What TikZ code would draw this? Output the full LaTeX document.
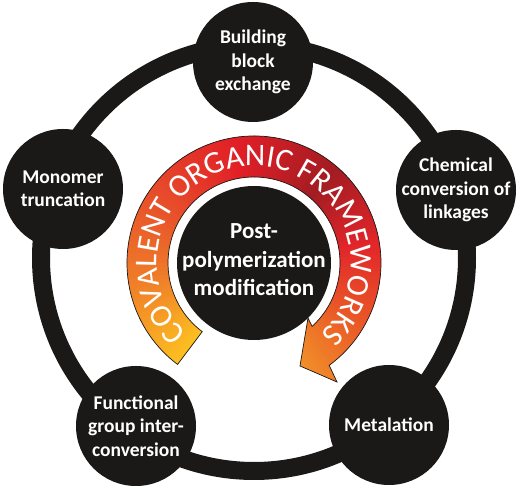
\documentclass[tikz,border=0pt]{standalone}
\usepackage{fontspec}
\setmainfont{Carlito}
\usepackage{tikz}
\usetikzlibrary{decorations.text}

\definecolor{cofblack}{HTML}{1B1918}
\definecolor{cofY}{HTML}{FDC21F}
\definecolor{cofO}{HTML}{EF7D29}
\definecolor{cofRO}{HTML}{E6462A}
\definecolor{cofR}{HTML}{E21F27}
\definecolor{cofD}{HTML}{A31C22}
\definecolor{cofRb}{HTML}{E2262A}
\definecolor{cofROb}{HTML}{EA5A27}
\definecolor{cofOb}{HTML}{F39B28}

\newcommand{\stagefont}{\bfseries\fontsize{19.5}{23.5}\selectfont}
\newcommand{\corefont}{\bfseries\fontsize{23}{28.5}\selectfont}
\newcommand{\arcfont}{\fontsize{31.5}{31.5}\selectfont}
% outline of the curved arrow, around the core
\newcommand{\cofarrow}{(233:127) arc[start angle=233, end angle=-53.7, radius=127]
    -- (83,-119) -- (46,-103) -- (54,-55) -- (-47.5:86)
    arc[start angle=-47.5, end angle=233, radius=86] -- cycle}

\begin{document}
\begin{tikzpicture}[x=1pt,y=1pt,
    stage/.style={circle, fill=cofblack, minimum size=120pt, inner sep=0pt},
    stagetext/.style={text=white, align=center, font=\stagefont},
    coretext/.style={text=white, align=center, font=\corefont, yshift=3pt},
    ringline/.style={draw=cofblack, line width=18pt}]
\useasboundingbox (0,0) rectangle (520,489);

\coordinate (ringc) at (254,231);
\draw[ringline] (ringc) circle (213);

\node[stage, label={[stagetext]center:Building\\block\\exchange}] (build) at (253,427) {};
\node[stage, label={[stagetext]center:Chemical\\conversion of\\linkages}] (chem) at (456,299) {};
\node[stage, label={[stagetext]center:Metalation}] (metal) at (389,64) {};
\node[stage, label={[stagetext]center:Functional\\group inter-\\conversion}] (func) at (136,63) {};
\node[stage, label={[stagetext]center:Monomer\\truncation}] (mono) at (63,300) {};

\node[circle, fill=cofblack, minimum size=154pt, inner sep=0pt,
    label={[coretext]center:Post-\\polymerization\\modification}] (core) at (254,226) {};

\begin{scope}[shift={(core.center)}]
  \begin{scope}
    \clip \cofarrow;
    \foreach \a/\b/\ca/\cb in {236/190/cofY/cofO, 190/140/cofO/cofRO, 140/100/cofRO/cofR,
        100/50/cofR/cofD, 50/10/cofD/cofRb, 10/-30/cofRb/cofROb, -30/-72/cofROb/cofOb}{
      \foreach \t in {0,...,19}{
        \pgfmathtruncatemacro\p{100-5*\t}
        \pgfmathsetmacro\s{\a+(\b-\a)*\t/20}
        \pgfmathsetmacro\e{\a+(\b-\a)*(\t+1.4)/20}
        \fill[\ca!\p!\cb] (0,0) -- (\s:170) -- (\e:170) -- cycle;
      }
    }
  \end{scope}
  \draw[cofblack, line width=0.7pt, line join=miter] \cofarrow;
  \path[decorate, decoration={text along path,
      text={|\arcfont|COVALENT ORGANIC FRAMEWORKS},
      text color=white, text align={fit to path}}]
    (226:97) arc[start angle=226, end angle=-46, radius=97];
\end{scope}
\end{tikzpicture}
\end{document}
